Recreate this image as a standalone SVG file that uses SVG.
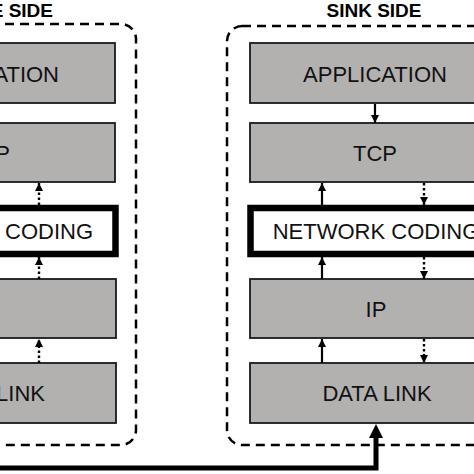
<svg xmlns="http://www.w3.org/2000/svg" width="474" height="474" viewBox="0 0 474 474">
<defs>
<style>
.box{fill:#b3b0b0;stroke:#1a1a1a;stroke-width:1.8}
.nc{fill:#ffffff;stroke:#000;stroke-width:6.5}
.cont{fill:none;stroke:#000;stroke-width:2.5;stroke-dasharray:9 6}
.lbl{font-family:"Liberation Sans",Arial,sans-serif;font-size:22px;fill:#111;text-anchor:middle}
.lblE{font-family:"Liberation Sans",Arial,sans-serif;font-size:22px;fill:#111;text-anchor:end}
.ttl{font-family:"Liberation Sans",Arial,sans-serif;font-size:19px;font-weight:bold;fill:#000;text-anchor:middle}
.ttlE{font-family:"Liberation Sans",Arial,sans-serif;font-size:19px;font-weight:bold;fill:#000;text-anchor:end}
.sol{stroke:#000;stroke-width:2.2;fill:none}
.dot{stroke:#000;stroke-width:2.4;stroke-dasharray:2.5 2.5;fill:none}
</style>
<marker id="ah" viewBox="0 0 10 10" refX="10" refY="5" markerUnits="userSpaceOnUse" markerWidth="8" markerHeight="8" orient="auto">
<path d="M0,0 L10,5 L0,10 z" fill="#000"/>
</marker>
</defs>
<rect width="474" height="474" fill="#fff"/>

<g id="source-side">
<rect class="cont" x="-160" y="24" width="296" height="421" rx="15"/>
<text class="ttlE" x="53" y="17">E SIDE</text>
</g>
<g id="sink-side">
<rect class="cont" x="227" y="26" width="296" height="419" rx="15"/>
<text class="ttl" x="374" y="17">SINK SIDE</text>
</g>

<g id="src-application">
<rect class="box" x="-135" y="43" width="250" height="60"/>
<text class="lblE" x="59" y="82">ATION</text>
</g>
<g id="src-tcp">
<rect class="box" x="-135" y="123" width="250" height="59"/>
<text class="lblE" x="10" y="161">P</text>
</g>
<g id="src-network-coding">
<rect class="nc" x="-134.5" y="208" width="250" height="46"/>
<text class="lblE" x="93" y="239">CODING</text>
</g>
<g id="src-ip">
<rect class="box" x="-135" y="279" width="251" height="59"/>
</g>
<g id="src-data-link">
<rect class="box" x="-135" y="363" width="251" height="60"/>
<text class="lblE" x="45" y="401">LINK</text>
</g>

<g id="sink-application">
<rect class="box" x="250" y="43" width="250" height="60"/>
<text class="lbl" x="375" y="82">APPLICATION</text>
</g>
<g id="sink-tcp">
<rect class="box" x="250" y="123" width="250" height="59"/>
<text class="lbl" x="375" y="161">TCP</text>
</g>
<g id="sink-network-coding">
<rect class="nc" x="250.5" y="208" width="250" height="46"/>
<text class="lbl" x="376" y="239">NETWORK CODING</text>
</g>
<g id="sink-ip">
<rect class="box" x="250" y="279" width="250" height="59"/>
<text class="lbl" x="376" y="317">IP</text>
</g>
<g id="sink-data-link">
<rect class="box" x="250" y="363" width="250" height="60"/>
<text class="lbl" x="377" y="401">DATA LINK</text>
</g>

<g id="connectors">
<line class="dot" x1="39" y1="205" x2="39" y2="183" marker-end="url(#ah)"/>
<line class="dot" x1="39" y1="279" x2="39" y2="257" marker-end="url(#ah)"/>
<line class="dot" x1="39" y1="363" x2="39" y2="339" marker-end="url(#ah)"/>

<line class="sol" x1="375" y1="104" x2="375" y2="123" marker-end="url(#ah)"/>
<line class="sol" x1="322" y1="205" x2="322" y2="183" marker-end="url(#ah)"/>
<line class="dot" x1="424" y1="183" x2="424" y2="205" marker-end="url(#ah)"/>
<line class="sol" x1="322" y1="279" x2="322" y2="257" marker-end="url(#ah)"/>
<line class="dot" x1="424" y1="257" x2="424" y2="279" marker-end="url(#ah)"/>
<line class="sol" x1="322" y1="363" x2="322" y2="339" marker-end="url(#ah)"/>
<line class="dot" x1="424" y1="339" x2="424" y2="363" marker-end="url(#ah)"/>

<path d="M-5,468 H376 V436" fill="none" stroke="#000" stroke-width="5"/>
<polygon points="376,424 369,438 383,438" fill="#000"/>
</g>
</svg>
